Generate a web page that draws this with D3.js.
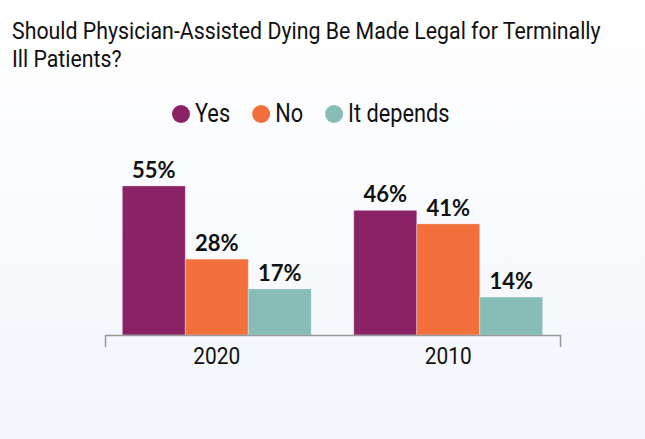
<!DOCTYPE html>
<html>
  <head>
    <meta charset="utf-8">
    <style>
      body { margin: 0; }
      svg { display: block; }
    </style>
  </head>
  <body>
    <script src="https://d3js.org/d3.v7.min.js"></script>
    <script type="text/javascript">

      const width = 645;
      const height = 439;

      const titleLines = ['Should Physician-Assisted Dying Be Made Legal for Terminally', 'Ill Patients?'];
      const years = ['2020', '2010'];
      const answers = ['Yes', 'No', 'It depends'];
      const yesValues = [55, 46];
      const noValues = [28, 41];
      const dependsValues = [17, 14];
      const colors = ['#8a2265', '#f36f3b', '#88bdb7'];

      // Roboto Condensed is not installed, so squeeze plain Roboto sideways
      const squeeze = 0.87;
      function condense(sel) {
        sel.each(function () {
          const t = d3.select(this);
          const x = +t.attr('x') || 0;
          const y = +t.attr('y') || 0;
          t.attr('x', 0)
            .attr('y', 0)
            .attr('transform', `translate(${x}, ${y}) scale(${squeeze}, 1)`);
        });
      }

      const series = [yesValues, noValues, dependsValues];
      const rows = years.map((year, i) => ({
        year,
        values: answers.map((a, j) => ({ key: a, value: series[j][i] })),
      }));

      const svg = d3.select('body')
        .append('svg')
        .attr('width', width)
        .attr('height', height);

      const grad = svg.append('defs')
        .append('linearGradient')
        .attr('id', 'bg')
        .attr('x1', 0).attr('y1', 0)
        .attr('x2', 0).attr('y2', 1);
      grad.append('stop').attr('offset', '0%').attr('stop-color', '#ffffff');
      grad.append('stop').attr('offset', '100%').attr('stop-color', '#f2f5fb');

      svg.append('rect')
        .attr('width', width)
        .attr('height', height)
        .attr('fill', 'url(#bg)');

      svg.append('g')
        .selectAll('text')
        .data(titleLines)
        .enter()
        .append('text')
        .attr('x', 12)
        .attr('y', (d, i) => 39 + i * 28)
        .attr('font-family', 'Roboto')
        .attr('font-size', 24.5)
        .attr('fill', '#111')
        .text((d) => d)
        .call(condense);

      // legend
      const legend = svg.append('g').attr('transform', 'translate(172, 114)');
      let lx = 0;
      answers.forEach((a, i) => {
        const item = legend.append('g').attr('transform', `translate(${lx}, 0)`);
        item.append('circle')
          .attr('cx', 9)
          .attr('cy', 0)
          .attr('r', 9)
          .attr('fill', colors[i]);
        const t = item.append('text')
          .attr('x', 23)
          .attr('y', 8)
          .attr('font-family', 'Roboto')
          .attr('font-size', 25)
          .attr('fill', '#111')
          .text(a);
        const w = t.node().getComputedTextLength() * squeeze;
        t.call(condense);
        lx += 23 + w + 22;
      });

      const x0 = d3.scaleBand()
        .domain(years)
        .range([105, 560])
        .paddingInner(0.184)
        .paddingOuter(0.075);

      const x1 = d3.scaleBand()
        .domain(answers)
        .range([0, x0.bandwidth()]);

      const color = d3.scaleOrdinal()
        .domain(answers)
        .range(colors);

      const baseY = 335;
      const yScale = d3.scaleLinear()
        .domain([0, 60])
        .range([baseY, baseY - 162.6]);

      const groups = svg.append('g')
        .selectAll('g')
        .data(rows)
        .enter()
        .append('g')
        .attr('transform', (d) => `translate(${x0(d.year)}, 0)`);

      groups.selectAll('rect')
        .data((d) => d.values)
        .enter()
        .append('rect')
        .attr('x', (d) => x1(d.key))
        .attr('y', (d) => yScale(d.value))
        .attr('width', x1.bandwidth())
        .attr('height', (d) => baseY - yScale(d.value))
        .attr('fill', (d) => color(d.key))
        .attr('stroke', '#ffffff')
        .attr('stroke-opacity', 0.3)
        .attr('stroke-width', 1);

      groups.selectAll('text')
        .data((d) => d.values)
        .enter()
        .append('text')
        .attr('x', (d) => x1(d.key) + x1.bandwidth() / 2)
        .attr('y', (d) => yScale(d.value) - 8)
        .attr('text-anchor', 'middle')
        .attr('font-family', 'Lato')
        .attr('font-weight', 'bold')
        .attr('font-size', 22)
        .attr('fill', '#111')
        .text((d) => d.value + '%');

      const axis = svg.append('g')
        .attr('transform', `translate(0, ${baseY})`)
        .call(d3.axisBottom(x0).tickSizeInner(0).tickSizeOuter(12));

      axis.select('.domain')
        .attr('stroke', '#999')
        .attr('stroke-width', 1.5);

      axis.selectAll('text')
        .attr('y', 29)
        .attr('dy', 0)
        .attr('font-family', 'Roboto')
        .attr('font-size', 24)
        .attr('fill', '#111')
        .call(condense);

    </script>
  </body>
</html>
